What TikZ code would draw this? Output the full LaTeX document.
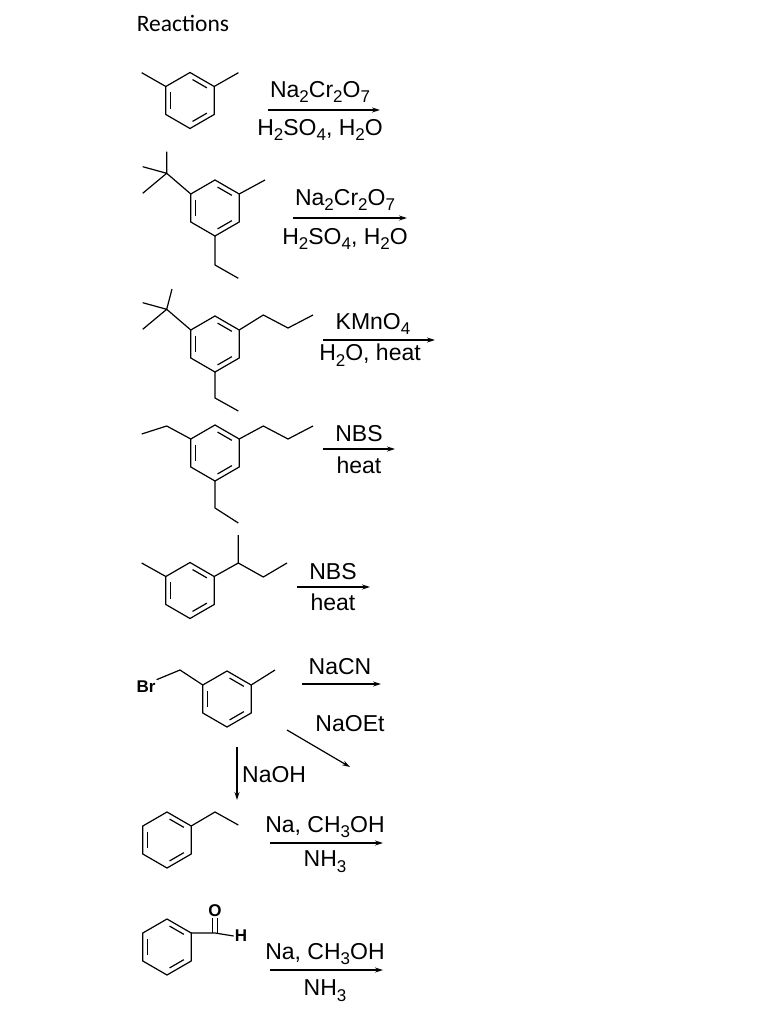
\documentclass[tikz,border=0pt]{standalone}
\usepackage{fontspec}
\setmainfont{Liberation Sans}
\newfontfamily\titlefont{Carlito}
\usetikzlibrary{calc,arrows.meta}
\tikzset{bond/.style={line width=1.2pt,line join=round},
 rxn/.style={line width=1.2pt,-{Stealth[length=8pt,width=5pt]}},
 lbl/.style={font=\fontsize{23}{26}\selectfont,inner sep=1pt},
 atom/.style={font=\bfseries\fontsize{17}{19}\selectfont,inner sep=1pt}}
\newcommand\sub[1]{\raisebox{-0.25em}{\fontsize{17}{19}\selectfont #1}}
\newcommand\dbl[3]{\draw[bond] ($ ($(#1c)!0.8!(#1#2)$)!0.13!($(#1c)!0.8!(#1#3)$) $) -- ($ ($(#1c)!0.8!(#1#3)$)!0.13!($(#1c)!0.8!(#1#2)$) $);}
\newcommand\benz[3]{%
 \coordinate (#1c) at (#2,#3);
 \coordinate (#1t) at (#2,#3-28);
 \coordinate (#1ur) at (#2+24.2,#3-14);
 \coordinate (#1lr) at (#2+24.2,#3+14);
 \coordinate (#1b) at (#2,#3+28);
 \coordinate (#1ll) at (#2-24.2,#3+14);
 \coordinate (#1ul) at (#2-24.2,#3-14);
 \draw[bond] (#1t)--(#1ur)--(#1lr)--(#1b)--(#1ll)--(#1ul)--cycle;
 \dbl{#1}{t}{ur}\dbl{#1}{lr}{b}\dbl{#1}{ul}{ll}}
\begin{document}
\begin{tikzpicture}[x=1pt,y=-1pt]
\useasboundingbox[fill=white] (0,0) rectangle (769,1024);
\node[font=\titlefont\fontsize{23.5}{26}\selectfont] (title) at (183,23) {Reactions};
% 1
\benz{a}{190}{100.5}
\coordinate (a1) at (141.7,72.7); \coordinate (a2) at (238.4,72.7);
\draw[bond] (aul)--(a1) (aur)--(a2);
\coordinate (r1s) at (268,110); \coordinate (r1e) at (380,110);
\draw[rxn] (r1s)--(r1e);
\node[lbl] (r1a) at (320,92) {Na\sub{2}Cr\sub{2}O\sub{7}};
\node[lbl] (r1b) at (320,130) {H\sub{2}SO\sub{4}, H\sub{2}O};
% 2
\benz{b}{215}{208}
\coordinate (bq) at (166.7,173.3); \coordinate (bm1) at (166.7,151.7);
\coordinate (bm2) at (142.7,166.7); \coordinate (bm3) at (142.7,193.3);
\draw[bond] (bul)--(bq) (bq)--(bm1) (bq)--(bm2) (bq)--(bm3);
\coordinate (bme) at (265,180); \draw[bond] (bur)--(bme);
\coordinate (be1) at (215,265); \coordinate (be2) at (238.3,278.3);
\draw[bond] (bb)--(be1)--(be2);
\coordinate (r2s) at (293,218); \coordinate (r2e) at (407,218);
\draw[rxn] (r2s)--(r2e);
\node[lbl] (r2a) at (345,200) {Na\sub{2}Cr\sub{2}O\sub{7}};
\node[lbl] (r2b) at (345,239) {H\sub{2}SO\sub{4}, H\sub{2}O};
% 3
\benz{c}{215}{344}
\coordinate (cq) at (166.7,309.3); \coordinate (cm1) at (172,289);
\coordinate (cm2) at (142.7,302.7); \coordinate (cm3) at (142.7,329.3);
\draw[bond] (cul)--(cq) (cq)--(cm1) (cq)--(cm2) (cq)--(cm3);
\coordinate (cp1) at (263.3,315); \coordinate (cp2) at (288,328); \coordinate (cp3) at (313,315);
\draw[bond] (cur)--(cp1)--(cp2)--(cp3);
\coordinate (ce1) at (215,398); \coordinate (ce2) at (238.3,411);
\draw[bond] (cb)--(ce1)--(ce2);
\coordinate (r3s) at (323,340); \coordinate (r3e) at (435,340);
\draw[rxn] (r3s)--(r3e);
\node[lbl] (r3a) at (373,324) {KMnO\sub{4}};
\node[lbl] (r3b) at (370,355) {H\sub{2}O, heat};
% 4
\benz{d}{215}{453}
\coordinate (dl1) at (166.7,426); \coordinate (dl2) at (141.7,434);
\draw[bond] (dul)--(dl1)--(dl2);
\coordinate (dp1) at (263.3,426); \coordinate (dp2) at (288,439); \coordinate (dp3) at (313,426);
\draw[bond] (dur)--(dp1)--(dp2)--(dp3);
\coordinate (de1) at (215,508); \coordinate (de2) at (238.3,523);
\draw[bond] (db)--(de1)--(de2);
\coordinate (r4s) at (323,449); \coordinate (r4e) at (395,449);
\draw[rxn] (r4s)--(r4e);
\node[lbl] (r4a) at (359,434) {NBS};
\node[lbl] (r4b) at (359,465) {heat};
% 5
\benz{e}{190}{590.5}
\coordinate (em) at (141.7,563); \draw[bond] (eul)--(em);
\coordinate (eq) at (238.3,563); \coordinate (eq1) at (238.3,535);
\coordinate (eq2) at (263.3,577); \coordinate (eq3) at (287,563);
\draw[bond] (eur)--(eq)--(eq1) (eq)--(eq2)--(eq3);
\coordinate (r5s) at (297,587); \coordinate (r5e) at (370,587);
\draw[rxn] (r5s)--(r5e);
\node[lbl] (r5a) at (333,572) {NBS};
\node[lbl] (r5b) at (333,602) {heat};
% 6
\benz{f}{227}{699}
\coordinate (fch) at (180,670); \node[atom] (br) at (146,686.7) {Br};
\draw[bond] (ful)--(fch)--(br.north east);
\coordinate (fm) at (275,670); \draw[bond] (fur)--(fm);
\coordinate (r6s) at (302,684); \coordinate (r6e) at (381,684);
\draw[rxn] (r6s)--(r6e);
\node[lbl] (r6a) at (340,667) {NaCN};
\node[lbl] (r6b) at (350,724) {NaOEt};
\coordinate (r7s) at (287,730); \coordinate (r7e) at (350,767);
\draw[rxn] (r7s)--(r7e);
\coordinate (r8s) at (237,747); \coordinate (r8e) at (237,800);
\draw[rxn] (r8s)--(r8e);
\node[lbl,anchor=west] (r8a) at (241,775) {NaOH};
% 7
\benz{g}{167}{840}
\coordinate (ge1) at (215,812); \coordinate (ge2) at (238.3,825);
\draw[bond] (gur)--(ge1)--(ge2);
\coordinate (r9s) at (270,843); \coordinate (r9e) at (383,843);
\draw[rxn] (r9s)--(r9e);
\node[lbl] (r9a) at (325,827) {Na, CH\sub{3}OH};
\node[lbl] (r9b) at (325,862) {NH\sub{3}};
% 8
\benz{h}{167}{947}
\coordinate (hc) at (215,933);
\node[atom] (ho) at (215,911) {O};
\node[atom] (hh) at (241,936) {H};
\draw[bond] (hur)--(hc)--(hh.west);
\draw[bond] ($(hc)+(-2.5,0)$)--($(ho.south)+(-2.5,0)$) ($(hc)+(2.5,0)$)--($(ho.south)+(2.5,0)$);
\coordinate (r10s) at (270,970); \coordinate (r10e) at (383,970);
\draw[rxn] (r10s)--(r10e);
\node[lbl] (r10a) at (325,954) {Na, CH\sub{3}OH};
\node[lbl] (r10b) at (325,991) {NH\sub{3}};
\end{tikzpicture}
\end{document}
